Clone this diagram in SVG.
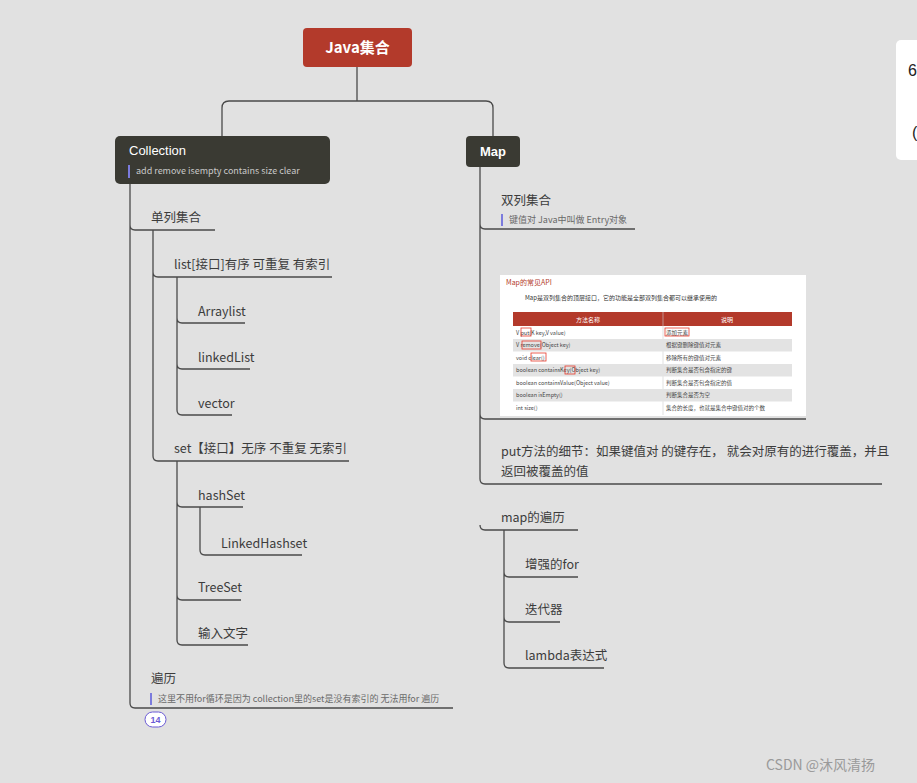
<svg xmlns="http://www.w3.org/2000/svg" width="917" height="783" viewBox="0 0 917 783">
<style>
.t{font-family:"Noto Sans CJK SC","Liberation Sans",sans-serif;font-size:12.5px;fill:#3c3c3c}
.n{font-family:"Noto Sans CJK SC","Liberation Sans",sans-serif;font-size:9px;fill:#6a6a6a}
.l{fill:none;stroke:#4a4a4a;stroke-width:1.3}
.s{font-family:"Noto Sans CJK SC","Liberation Mono",monospace;font-size:5.5px;fill:#444}
</style>
<rect width="917" height="783" fill="#e1e1e1"/>
<g id="connectors">
<path class="l" d="M357 67V101M222 136V108Q222 101 229 101H486Q493 101 493 108V136"/>
<path class="l" d="M130 184V703Q130 708 135 708H453M130 225Q130 230 135 230H215M153 230V456Q153 461 158 461H349M153 272Q153 277 158 277H332M177 277V410Q177 415 182 415H232M177 318Q177 323 182 323H245M177 364Q177 369 182 369H250M177 461V640Q177 645 182 645H248M177 502Q177 507 182 507H243M200 507V550Q200 555 205 555H302M177 595Q177 600 182 600H241"/>
<path class="l" d="M480 167V479Q480 484 485 484H882M480 224Q480 229 485 229H635M480 414Q480 419 485 419H806M480 525Q480 530 485 530H578M504 530V663Q504 668 509 668H604M504 572Q504 577 509 577H578M504 617Q504 622 509 622H560"/>
</g>
<g id="root"><rect x="303" y="28" width="109" height="39" rx="4" fill="#b33a2b"/><text x="357.5" y="53" text-anchor="middle" font-family="Noto Sans CJK SC,Liberation Sans,sans-serif" font-size="15" font-weight="bold" fill="#fff">Java集合</text></g>
<g id="collection"><rect x="115" y="136" width="215" height="48" rx="5" fill="#3a3a33"/><text x="129" y="155" font-family="Liberation Sans,sans-serif" font-size="13" fill="#fff">Collection</text><rect x="128" y="165" width="2" height="13" fill="#7b7bdd"/><text x="136" y="174" font-family="Noto Sans CJK SC,Liberation Sans,sans-serif" font-size="9" fill="#c8c8c8">add remove  isempty  contains   size  clear</text></g>
<g id="map"><rect x="466" y="136" width="54" height="31" rx="4" fill="#3a3a33"/><text x="493" y="156" text-anchor="middle" font-family="Liberation Sans,sans-serif" font-size="13" font-weight="bold" fill="#fff">Map</text></g>
<g id="n1"><text class="t" x="151" y="222">单列集合</text></g>
<g id="n2"><text class="t" x="174" y="269">list[接口]有序 可重复  有索引</text></g>
<g id="n3"><text class="t" x="198" y="316">Arraylist</text></g>
<g id="n4"><text class="t" x="198" y="362">linkedList</text></g>
<g id="n5"><text class="t" x="198" y="408">vector</text></g>
<g id="n6"><text class="t" x="174" y="453">set【接口】无序 不重复  无索引</text></g>
<g id="n7"><text class="t" x="198" y="500">hashSet</text></g>
<g id="n8"><text class="t" x="221" y="548">LinkedHashset</text></g>
<g id="n9"><text class="t" x="198" y="592">TreeSet</text></g>
<g id="n10"><text class="t" x="198" y="638">输入文字</text></g>
<g id="n11"><text class="t" x="151" y="683">遍历</text><rect x="150" y="693" width="2" height="12" fill="#7b7bdd"/><text class="n" x="158" y="702">这里不用for循环是因为 collection里的set是没有索引的  无法用for 遍历</text>
<rect x="145" y="712" width="21" height="15" rx="7.5" fill="#fff" stroke="#6b5bd6"/><text x="155.5" y="723" text-anchor="middle" font-family="Liberation Sans,sans-serif" font-size="9" font-weight="bold" fill="#6b5bd6">14</text></g>
<g id="m1"><text class="t" x="501" y="205">双列集合</text><rect x="501" y="214" width="2" height="12" fill="#7b7bdd"/><text class="n" x="509" y="223">键值对 Java中叫做 Entry对象</text></g>
<g id="m2">
<rect x="500" y="275" width="306" height="141" fill="#fff"/>
<text x="506" y="285" font-family="Noto Sans CJK SC,sans-serif" font-size="7" fill="#b33a2b">Map的常见API</text>
<text x="525" y="300" font-family="Noto Sans CJK SC,sans-serif" font-size="6" fill="#333">Map是双列集合的顶层接口，它的功能是全部双列集合都可以继承使用的</text>
<rect x="513" y="312" width="279" height="14" fill="#b33a2b"/>
<line x1="663" y1="312" x2="663" y2="415" stroke="#ccc" stroke-width="0.6"/>
<text x="588" y="322" text-anchor="middle" font-family="Noto Sans CJK SC,sans-serif" font-size="6" fill="#fff">方法名称</text>
<text x="727" y="322" text-anchor="middle" font-family="Noto Sans CJK SC,sans-serif" font-size="6" fill="#fff">说明</text>
<rect x="513" y="339" width="279" height="12.5" fill="#e3e3e3"/><rect x="513" y="364" width="279" height="12.5" fill="#e3e3e3"/><rect x="513" y="389" width="279" height="12.5" fill="#e3e3e3"/>
<text class="s" x="516" y="335">V put(K key,V value)</text><text class="s" x="666" y="335">添加元素</text>
<text class="s" x="516" y="347">V remove(Object key)</text><text class="s" x="666" y="347">根据键删除键值对元素</text>
<text class="s" x="516" y="360">void clear()</text><text class="s" x="666" y="360">移除所有的键值对元素</text>
<text class="s" x="516" y="372">boolean containsKey(Object key)</text><text class="s" x="666" y="372">判断集合是否包含指定的键</text>
<text class="s" x="516" y="385">boolean containsValue(Object value)</text><text class="s" x="666" y="385">判断集合是否包含指定的值</text>
<text class="s" x="516" y="397">boolean isEmpty()</text><text class="s" x="666" y="397">判断集合是否为空</text>
<text class="s" x="516" y="410">int size()</text><text class="s" x="666" y="410">集合的长度，也就是集合中键值对的个数</text>
<g fill="none" stroke="#e53b2b" stroke-width="0.8"><rect x="521" y="328" width="10" height="8"/><rect x="522" y="341" width="19" height="8"/><rect x="531" y="353" width="15" height="8"/><rect x="565" y="366" width="10" height="8"/><rect x="665" y="328" width="24" height="8"/></g>
</g>
<g id="m3"><text class="t" x="501" y="456">put方法的细节：如果键值对 的键存在， 就会对原有的进行覆盖，并且</text><text class="t" x="501" y="476">返回被覆盖的值</text></g>
<g id="m4"><text class="t" x="501" y="522">map的遍历</text></g>
<g id="m5"><text class="t" x="525" y="569">增强的for</text></g>
<g id="m6"><text class="t" x="525" y="614">迭代器</text></g>
<g id="m7"><text class="t" x="525" y="660">lambda表达式</text></g>
<g id="card"><rect x="896" y="40" width="30" height="120" rx="5" fill="#fff"/><text x="908" y="76" font-family="Liberation Sans,sans-serif" font-size="16" fill="#222">6</text><text x="912" y="138" font-family="Liberation Sans,sans-serif" font-size="16" fill="#222">(</text></g>
<text x="766" y="770" font-family="Noto Sans CJK SC,Liberation Sans,sans-serif" font-size="14" fill="#9a9a9a">CSDN @沐风清扬</text>
</svg>
